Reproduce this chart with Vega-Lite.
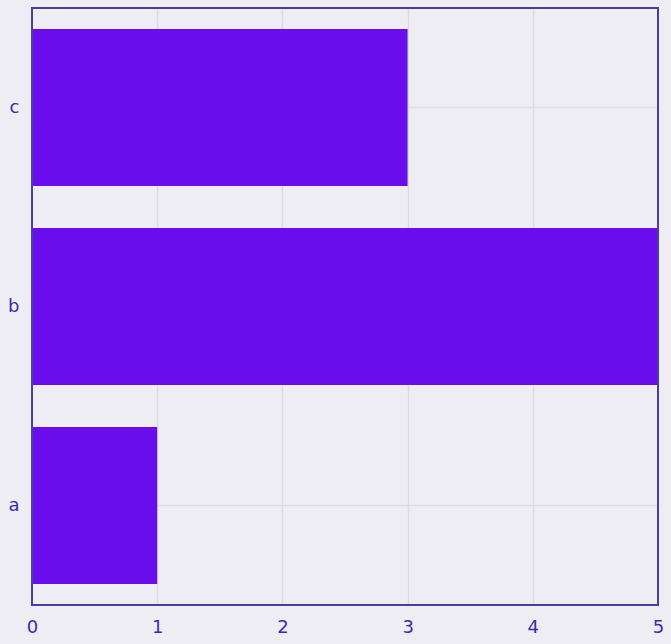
{
  "$schema": "https://vega.github.io/schema/vega-lite/v6.json",
  "width": 626,
  "height": 597,
  "autosize": {"type": "none"},
  "padding": {"left": 32, "top": 8, "right": 13, "bottom": 39},
  "background": "#efedf4",
  "config": {
    "view": {"stroke": null, "fill": "#efedf4"},
    "font": "DejaVu Sans"
  },
  "data": {"values": [
    {"cat": "a", "value": 1},
    {"cat": "b", "value": 5},
    {"cat": "c", "value": 3}
  ]},
  "layer": [
    {
      "mark": {"type": "bar", "color": "#6a0dec"},
      "encoding": {
        "y": {
          "field": "cat", "type": "nominal", "sort": "descending",
          "scale": {"paddingInner": 0.21, "paddingOuter": 0.105},
          "axis": {"title": null, "labelAngle": 0, "ticks": false, "domain": false, "labelFontSize": 18, "labelColor": "#3a2bb0", "labelPadding": 13, "grid": true, "gridColor": "#dcd9e2", "gridWidth": 1.5, "bandPosition": 0.5}
        },
        "x": {
          "field": "value", "type": "quantitative",
          "scale": {"domain": [0, 5], "nice": false},
          "axis": {"title": null, "values": [0,1,2,3,4,5], "format": "d", "ticks": false, "domain": false, "labelFontSize": 18, "labelColor": "#3a2bb0", "labelPadding": 13, "labelOverlap": false, "grid": true, "gridColor": "#dcd9e2", "gridWidth": 1.5, "labelFlush": false}
        }
      }
    },
    {
      "mark": {"type": "rect", "fill": null, "stroke": "#4b3f9a", "strokeWidth": 2},
      "encoding": {
        "x": {"datum": 0, "type": "quantitative"},
        "x2": {"datum": 5},
        "y": {"value": 0},
        "y2": {"value": 597}
      }
    }
  ]
}
